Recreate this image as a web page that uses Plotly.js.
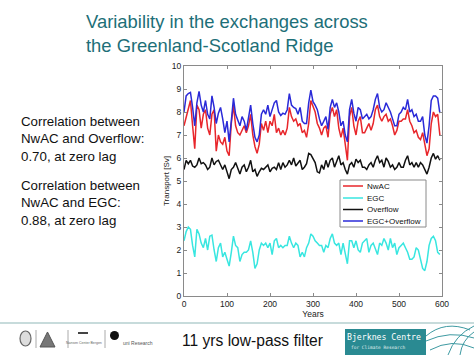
<!DOCTYPE html>
<html>
<head>
<meta charset="utf-8">
<script src="https://cdn.plot.ly/plotly-3.0.1.min.js"></script>
<style>
html,body{margin:0;padding:0;background:#fff;}
#chart{width:474px;height:355px;}
</style>
</head>
<body>
<div id="chart"></div>
<script>
// ---- data ----
const years = [0,5,10,15,20,25,30,35,40,45,50,55,60,65,70,75,80,85,90,95,
100,105,110,115,120,125,130,135,140,145,150,155,160,165,170,175,180,185,190,195,
200,205,210,215,220,225,230,235,240,245,250,255,260,265,270,275,280,285,290,295,
300,305,310,315,320,325,330,335,340,345,350,355,360,365,370,375,380,385,390,395,
400,405,410,415,420,425,430,435,440,445,450,455,460,465,470,475,480,485,490,495,
500,505,510,515,520,525,530,535,540,545,550,555,560,565,570,575,580,585,590,595];

const nwac = [7.4,7.8,8.1,8.5,7.4,6.4,8.3,8.1,7.3,7.9,8.1,7.3,7.0,7.9,8.1,6.3,7.0,6.7,6.6,6.9,
6.3,6.1,7.5,8.3,7.4,7.1,7.0,7.2,7.4,7.1,7.4,7.9,7.0,6.5,6.2,6.6,7.5,7.2,7.6,7.1,
7.6,7.4,7.9,7.1,7.3,7.0,7.2,7.0,7.3,8.2,7.8,7.6,7.7,7.4,7.5,7.1,7.2,6.9,7.5,8.5,
8.2,8.0,7.5,7.3,7.0,7.3,7.4,6.9,7.9,8.2,7.8,8.1,7.3,6.9,7.3,6.6,5.9,7.8,8.2,7.4,
7.0,7.6,7.8,7.1,7.1,7.3,7.5,7.2,7.5,8.1,8.3,7.8,7.6,7.8,7.9,7.6,7.7,7.4,7.0,7.2,
7.6,7.6,7.7,7.7,8.1,7.6,7.4,7.1,7.2,6.9,6.8,7.1,6.6,6.1,6.4,7.5,8.0,7.8,7.9,7.0];

const egc = [2.4,2.8,3.0,2.9,2.2,1.7,2.9,2.7,2.3,2.1,2.5,2.0,2.6,2.65,2.0,1.5,2.1,2.3,1.7,1.9,
1.6,1.3,1.9,2.6,2.2,2.1,1.5,1.8,1.9,1.9,2.0,2.4,1.9,1.2,1.4,2.0,2.3,2.2,2.3,2.1,
2.3,1.8,2.4,2.5,2.1,2.2,2.1,2.2,2.2,2.6,2.3,2.1,2.3,2.2,1.7,1.9,1.7,2.1,2.3,2.7,
2.6,2.4,2.3,2.2,2.2,1.9,2.2,2.1,2.5,2.7,2.3,2.2,2.3,1.8,2.3,1.9,1.4,2.4,2.4,2.1,
2.4,2.0,1.9,2.3,2.4,2.5,1.9,2.2,2.3,2.0,1.8,2.3,2.2,2.5,2.3,2.0,2.5,2.1,2.3,1.8,
2.1,2.2,2.3,2.1,1.9,1.6,1.6,1.7,2.1,2.0,1.6,1.2,1.1,1.5,2.2,2.5,2.6,2.4,1.9,1.8];

const overflow = [5.5,5.9,5.75,5.9,5.65,5.6,5.7,6.0,5.75,5.8,5.7,5.5,5.6,6.0,5.7,5.85,5.9,5.7,5.5,5.7,
5.4,5.1,5.5,5.6,5.8,5.5,5.3,5.6,5.7,5.4,5.6,5.9,5.4,5.5,5.2,5.4,5.55,5.5,5.6,5.7,
5.4,5.55,5.6,5.5,5.8,5.5,5.8,5.6,5.7,5.9,5.7,6.0,5.65,5.8,5.9,5.5,5.6,5.75,6.2,6.15,
6.0,5.8,5.4,5.35,5.7,5.5,5.9,5.6,5.9,6.0,5.6,5.85,6.1,5.7,5.8,5.5,5.3,5.7,5.8,5.6,
5.95,5.8,5.9,5.6,5.6,5.5,5.7,5.8,5.6,5.9,6.1,5.8,5.9,5.6,6.0,5.85,5.6,5.7,5.5,5.6,
5.8,5.6,5.6,5.9,6.1,5.7,5.8,5.6,5.8,5.6,5.8,5.7,5.5,5.3,5.6,6.0,6.2,5.95,6.1,5.9];

const egcOverflow = [8.0,8.7,8.8,8.85,8.2,7.4,8.4,8.9,8.3,8.0,8.5,7.9,7.7,8.7,8.2,7.5,7.95,8.2,7.7,7.1,
7.6,6.7,7.6,8.6,7.9,7.6,7.4,7.8,7.6,7.2,7.8,8.3,7.5,6.9,6.7,7.0,7.9,8.1,7.9,8.3,
7.8,8.1,8.4,8.5,8.0,7.85,7.95,7.9,8.1,8.8,8.3,8.2,8.15,7.9,8.2,7.6,7.5,7.5,8.4,8.95,
8.45,8.3,8.1,7.7,7.4,7.6,7.8,7.25,8.2,8.55,8.2,8.4,8.0,7.4,7.6,7.0,6.7,8.1,8.55,7.95,
7.6,8.2,8.1,7.7,7.8,7.9,7.7,7.8,8.1,8.55,8.8,8.2,8.0,8.1,8.4,8.2,8.0,7.7,7.4,7.4,
7.9,8.0,8.2,8.1,8.55,8.0,8.1,7.8,7.9,7.6,7.6,7.8,7.0,6.65,7.4,8.5,8.7,8.7,8.6,7.95];

const seriesNames = ["NwAC","EGC","Overflow","EGC+Overflow"];
const seriesColors = ["#e8262b","#38e6e0","#111111","#2a2ad8"];
const xTicks = [0,100,200,300,400,500,600];
const yTicks = [0,1,2,3,4,5,6,7,8,9,10];

// ---- page geometry helpers (plot area 184..442 x 66..296 px) ----
const L = 184, R = 442, T = 66, B = 296, W = 474, H = 355;
const px = v => (v - L) / (R - L);
const py = v => (B - v) / (B - T);
const FONT = "Liberation Sans, Arial, sans-serif";
const TEAL = "#1d6f78";

const seriesData = [nwac, egc, overflow, egcOverflow];
const traces = seriesData.map((d, i) => ({
  type: "scatter", mode: "lines", x: years, y: d,
  name: seriesNames[i], showlegend: false,
  line: {color: seriesColors[i], width: 1.5}
}));

function P(x, y){ return px(x).toFixed(4) + "," + py(y).toFixed(4); }

const shapes = [
  // footer rule
  {type:"line", xref:"paper", yref:"paper", x0:px(0), x1:px(474), y0:py(323), y1:py(323), line:{color:"#b5cfcf", width:1.5}},
  // left logos (approximate)
  {type:"circle", xref:"paper", yref:"paper", x0:px(20), x1:px(31), y0:py(346), y1:py(331), line:{color:"#666", width:1.2}, fillcolor:"#ddd"},
  {type:"line", xref:"paper", yref:"paper", x0:px(36), x1:px(36), y0:py(348), y1:py(330), line:{color:"#aaa", width:1}},
  {type:"path", xref:"paper", yref:"paper", path:"M"+P(40,347)+" L"+P(47.5,332)+" L"+P(55,347)+" Z", fillcolor:"#777", line:{color:"#555", width:1}},
  {type:"line", xref:"paper", yref:"paper", x0:px(68), x1:px(68), y0:py(348), y1:py(330), line:{color:"#aaa", width:1}},
  {type:"rect", xref:"paper", yref:"paper", x0:px(78), x1:px(88), y0:py(334), y1:py(332), fillcolor:"#444", line:{width:0}},
  {type:"line", xref:"paper", yref:"paper", x0:px(105), x1:px(105), y0:py(348), y1:py(330), line:{color:"#aaa", width:1}},
  {type:"circle", xref:"paper", yref:"paper", x0:px(110), x1:px(119), y0:py(340), y1:py(331), fillcolor:"#111", line:{width:0}},
  // Bjerknes logo
  {type:"rect", xref:"paper", yref:"paper", x0:px(345), x1:px(426), y0:py(356), y1:py(329), fillcolor:"#2a8a92", line:{width:0}},
  {type:"path", xref:"paper", yref:"paper", path:"M"+P(426,336)+" Q"+P(445,320)+" "+P(470,330), line:{color:"#3e9aa2", width:1}},
  {type:"path", xref:"paper", yref:"paper", path:"M"+P(426,341)+" Q"+P(450,330)+" "+P(474,338), line:{color:"#3e9aa2", width:1}},
  {type:"path", xref:"paper", yref:"paper", path:"M"+P(430,350)+" Q"+P(452,338)+" "+P(474,348), line:{color:"#3e9aa2", width:1}},
  {type:"path", xref:"paper", yref:"paper", path:"M"+P(448,355)+" Q"+P(455,335)+" "+P(474,326), line:{color:"#3e9aa2", width:1}},
  {type:"path", xref:"paper", yref:"paper", path:"M"+P(460,355)+" Q"+P(462,340)+" "+P(474,332), line:{color:"#3e9aa2", width:1}},
  // legend box
  {type:"rect", xref:"paper", yref:"paper", x0:px(340), x1:px(426), y0:py(227), y1:py(180), fillcolor:"#ffffff", line:{color:"#8a8a8a", width:1}}
];

const annotations = [
  {xref:"paper", yref:"paper", x:px(84), y:py(9), xanchor:"left", yanchor:"top", align:"left", showarrow:false,
   text:"Variability in the exchanges across<br>the Greenland-Scotland Ridge", font:{family:FONT, size:18.4, color:TEAL}},
  {xref:"paper", yref:"paper", x:px(19), y:py(139), xanchor:"left", yanchor:"middle", align:"left", showarrow:false,
   text:"Correlation between<br>NwAC and Overflow:<br>0.70, at zero lag", font:{family:FONT, size:13.3, color:"#111"}},
  {xref:"paper", yref:"paper", x:px(19), y:py(203), xanchor:"left", yanchor:"middle", align:"left", showarrow:false,
   text:"Correlation between<br>NwAC and EGC:<br>0.88, at zero lag", font:{family:FONT, size:13.3, color:"#111"}},
  {xref:"paper", yref:"paper", x:px(252), y:py(340), xanchor:"center", yanchor:"middle", showarrow:false,
   text:"11 yrs low-pass filter", font:{family:FONT, size:15.6, color:"#111"}},
  {xref:"paper", yref:"paper", x:px(384), y:py(337), xanchor:"center", yanchor:"middle", showarrow:false,
   text:"Bjerknes Centre", font:{family:"DejaVu Sans Mono, monospace", size:8.2, color:"#ffffff"}},
  {xref:"paper", yref:"paper", x:px(378), y:py(347), xanchor:"center", yanchor:"middle", showarrow:false,
   text:"for Climate Research", font:{family:"DejaVu Sans Mono, monospace", size:4.5, color:"#e0f0f0"}},
  {xref:"paper", yref:"paper", x:px(121), y:py(343), xanchor:"left", yanchor:"middle", showarrow:false,
   text:"uni Research", font:{family:FONT, size:5, color:"#555"}},
  {xref:"paper", yref:"paper", x:px(84), y:py(343), xanchor:"center", yanchor:"middle", showarrow:false,
   text:"Nansen Center Bergen", font:{family:FONT, size:3.5, color:"#666"}}
];

// legend entries (lines + labels) built from series names/colours
const legendRows = [186, 198, 209.5, 221];
seriesNames.forEach((n, i) => {
  shapes.push({type:"line", xref:"paper", yref:"paper", x0:px(343), x1:px(363), y0:py(legendRows[i]), y1:py(legendRows[i]),
    line:{color:seriesColors[i], width:1.5}});
  annotations.push({xref:"paper", yref:"paper", x:px(365), y:py(legendRows[i]), xanchor:"left", yanchor:"middle",
    showarrow:false, text:n, font:{family:FONT, size:8, color:"#111"}});
});

const axisCommon = {
  showgrid:false, zeroline:false, showline:true, linecolor:"#8a8a8a", linewidth:1,
  mirror:"ticks", ticks:"inside", ticklen:3, tickcolor:"#8a8a8a",
  tickfont:{family:FONT, size:8.5, color:"#222"}, automargin:false
};

const layout = {
  width:W, height:H,
  margin:{l:L, r:W-R, t:T, b:H-B, pad:0},
  paper_bgcolor:"#ffffff", plot_bgcolor:"#ffffff",
  font:{family:FONT},
  xaxis: Object.assign({}, axisCommon, {
    range:[0,600], tickvals:xTicks, ticktext:xTicks.map(String),
    title:{text:"Years", font:{family:FONT, size:8.5, color:"#222"}, standoff:2}
  }),
  yaxis: Object.assign({}, axisCommon, {
    range:[0,10], tickvals:yTicks, ticktext:yTicks.map(String),
    title:{text:"Transport [Sv]", font:{family:FONT, size:8, color:"#222"}, standoff:1}
  }),
  showlegend:false,
  shapes:shapes,
  annotations:annotations
};

Plotly.newPlot("chart", traces, layout, {staticPlot:true, displayModeBar:false});
</script>
</body>
</html>
